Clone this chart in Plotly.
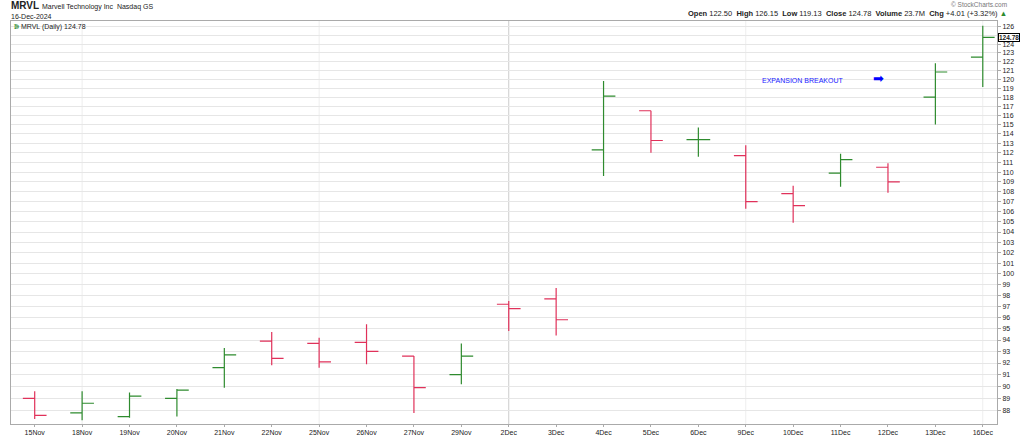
import math
import plotly.graph_objects as go

dates = ["15Nov","18Nov","19Nov","20Nov","21Nov","22Nov","25Nov","26Nov","27Nov","29Nov",
         "2Dec","3Dec","4Dec","5Dec","6Dec","9Dec","10Dec","11Dec","12Dec","13Dec","16Dec"]
opens  = [89.0, 87.8, 87.5, 89.0, 91.6, 93.9, 93.7, 93.8, 92.6, 91.0, 97.2, 97.7, 112.3, 116.5, 113.4, 111.7, 107.8, 109.9, 110.5, 118.0, 122.50]
highs  = [89.6, 89.6, 89.5, 89.8, 93.3, 94.7, 94.2, 95.4, 92.6, 93.7, 97.5, 98.7, 119.8, 116.5, 114.7, 112.8, 108.6, 111.9, 110.9, 121.8, 126.15]
lows   = [87.3, 87.2, 87.4, 87.5, 89.9, 91.8, 91.6, 91.9, 87.8, 90.2, 94.8, 94.4, 109.6, 112.0, 111.6, 106.3, 104.9, 108.5, 107.9, 115.0, 119.13]
closes = [87.6, 88.6, 89.2, 89.7, 92.7, 92.4, 92.1, 93.0, 89.9, 92.6, 96.8, 95.8, 118.1, 113.3, 113.4, 107.0, 106.6, 111.3, 109.0, 120.8, 124.78]
yticks = list(range(88, 127))

fig = go.Figure(go.Ohlc(
    x=dates, open=opens, high=highs, low=lows, close=closes, tickwidth=0.25,
    increasing=dict(line=dict(color="#2e8b2e", width=1.2)),
    decreasing=dict(line=dict(color="#e0315a", width=1.2)),
    hoverinfo="skip"))

for d, c in [("18Nov", "#eeeeee"), ("25Nov", "#eeeeee"), ("2Dec", "#cccccc"), ("9Dec", "#eeeeee"), ("16Dec", "#eeeeee")]:
    fig.add_shape(type="line", xref="x", yref="paper", x0=d, x1=d, y0=0, y1=1,
                  line=dict(color=c, width=1), layer="below")

fig.update_layout(
    width=1024, height=446, paper_bgcolor="white", plot_bgcolor="white",
    margin=dict(l=10, r=24, t=21, b=11), showlegend=False,
    font=dict(family="Liberation Sans, Arial", size=8, color="#222"),
    xaxis=dict(type="category", rangeslider=dict(visible=False), range=[-0.5, 20.3],
               showgrid=False, showline=True, linecolor="#aaa", mirror=True,
               tickfont=dict(size=7), ticks="outside", ticklen=2, tickcolor="#aaa"),
    yaxis=dict(type="log", side="right", range=[1.939, 2.1028], tickvals=yticks,
               ticktext=[str(v) for v in yticks], gridcolor="#e6e6e6",
               showline=True, linecolor="#aaa", mirror=True, tickfont=dict(size=7),
               ticks="outside", ticklen=3, tickcolor="#aaa"),
)

anns = [
    dict(x=0.0, y=1.0, xref="paper", yref="paper", xanchor="left", yanchor="bottom", yshift=8, xshift=-2,
         text="<b>MRVL</b> <span style='font-size:7px'>Marvell Technology Inc  Nasdaq GS</span>", font=dict(size=10)),
    dict(x=0.0, y=1.0, xref="paper", yref="paper", xanchor="left", yanchor="bottom", yshift=-1, xshift=-2,
         text="16-Dec-2024", font=dict(size=7)),
    dict(x=0.0, y=1.0, xref="paper", yref="paper", xanchor="left", yanchor="top", xshift=1,
         text="<span style='color:#2e8b2e'>ↇ</span> MRVL (Daily) 124.78", font=dict(size=7)),
    dict(x=1.0, y=1.0, xref="paper", yref="paper", xanchor="right", yanchor="bottom", yshift=1, xshift=12,
         text="<b>Open</b> 122.50  <b>High</b> 126.15  <b>Low</b> 119.13  <b>Close</b> 124.78  <b>Volume</b> 23.7M  <b>Chg</b> +4.01 (+3.32%) <span style='color:#2e8b2e'>▲</span>",
         font=dict(size=7.5)),
    dict(x=1.0, y=1.0, xref="paper", yref="paper", xanchor="right", yanchor="bottom", yshift=11, xshift=12,
         text="© StockCharts.com", font=dict(size=6.5, color="#777")),
    dict(x=16.2, y=math.log10(119.9), xref="x", yref="y", text="EXPANSION BREAKOUT",
         font=dict(size=7, color="#2222ff")),
    dict(x=17.8, y=math.log10(120.1), xref="x", yref="y", text="➡",
         font=dict(size=13, color="#0000ff", family="DejaVu Sans")),
    dict(x=1.0, y=math.log10(124.78), xref="paper", yref="y", xanchor="left", xshift=1,
         text="<b>124.78</b>", font=dict(size=6.5), bordercolor="#000", borderwidth=1, borderpad=0,
         bgcolor="white"),
]
for a in anns:
    a.setdefault("showarrow", False)
    fig.add_annotation(**a)

fig.write_html("out.html", config={"displayModeBar": False},
               post_script="document.body.style.margin='0';document.body.style.overflow='hidden';")
